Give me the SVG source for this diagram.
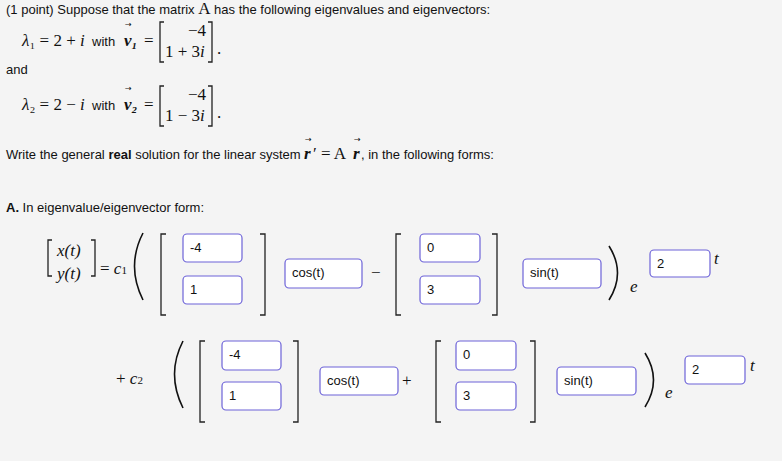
<svg xmlns="http://www.w3.org/2000/svg" width="782" height="461" viewBox="0 0 782 461">
<style>
.s{font-family:"Liberation Sans",Arial,sans-serif;font-size:13px;fill:#111}
.m{font-family:"Liberation Serif","Times New Roman",serif;font-size:17px;fill:#111}
.i{font-style:italic}
.b{fill:#fff;stroke:#6d63d8;stroke-width:1.2;rx:4}
.bx{fill:none;stroke:#222;stroke-width:1.3}
.p{fill:none;stroke:#111;stroke-width:1.6}
.ar{font-family:"DejaVu Sans",sans-serif;font-size:8px;fill:#111}
</style>
<rect width="782" height="461" fill="#f4f4f4"/>
<g id="header">
<text class="s" x="6" y="14">(1 point) Suppose that the matrix <tspan class="m">A</tspan> has the following eigenvalues and eigenvectors:</text>
<text class="m" x="22" y="46"><tspan class="i">λ</tspan>₁ = 2 + <tspan class="i">i</tspan></text>
<text class="s" x="92" y="46">with</text>
<text class="m i" x="124" y="46" font-weight="bold">v₁</text>
<text class="ar" x="125" y="27">→</text>
<text class="m" x="144" y="46">=</text>
<path class="bx" d="M164 22h-4v40h4M208 22h4v40h-4"/>
<text class="m" x="206" y="36" text-anchor="end">−4</text>
<text class="m" x="165" y="57">1 + 3<tspan class="i">i</tspan></text>
<text class="m" x="217" y="54">.</text>
<text class="s" x="6" y="74">and</text>
<text class="m" x="22" y="110"><tspan class="i">λ</tspan>₂ = 2 − <tspan class="i">i</tspan></text>
<text class="s" x="92" y="110">with</text>
<text class="m i" x="124" y="110" font-weight="bold">v₂</text>
<text class="ar" x="125" y="91">→</text>
<text class="m" x="144" y="110">=</text>
<path class="bx" d="M164 86h-4v40h4M208 86h4v40h-4"/>
<text class="m" x="206" y="100" text-anchor="end">−4</text>
<text class="m" x="165" y="121">1 − 3<tspan class="i">i</tspan></text>
<text class="m" x="217" y="118">.</text>
<text class="s" x="6" y="159">Write the general <tspan font-weight="bold">real</tspan> solution for the linear system</text>
<text class="m i" x="304" y="159" font-weight="bold">r</text>
<text class="ar" x="305" y="142">→</text>
<text class="m" x="313" y="159">′ = A</text>
<text class="m i" x="353" y="159" font-weight="bold">r</text>
<text class="ar" x="354" y="142">→</text>
<text class="s" x="361" y="159">, in the following forms:</text>
<text class="s" x="6" y="212"><tspan font-weight="bold">A.</tspan> In eigenvalue/eigenvector form:</text>
</g>
<g id="row1">
<path class="bx" d="M52 240h-4v36h4M91 240h4v36h-4"/>
<text class="m i" x="57" y="256" font-size="15">x(t)</text>
<text class="m i" x="57" y="279" font-size="15">y(t)</text>
<text class="m" x="100" y="274">= <tspan class="i">c</tspan><tspan font-size="11">1</tspan></text>
<path class="p" d="M143 233Q126 266 143 300"/>
<path class="bx" d="M166 234h-5v81h5M260 234h5v81h-5"/>
<rect class="b" x="183" y="234" width="59" height="28"/><text class="s" x="190" y="252">-4</text>
<rect class="b" x="183" y="276" width="59" height="28"/><text class="s" x="190" y="294">1</text>
<rect class="b" x="285" y="259" width="77" height="29"/><text class="s" x="292" y="277">cos(t)</text>
<text class="m" x="371" y="278">−</text>
<path class="bx" d="M401 234h-5v81h5M492 234h5v81h-5"/>
<rect class="b" x="420" y="234" width="60" height="28"/><text class="s" x="427" y="252">0</text>
<rect class="b" x="420" y="276" width="60" height="28"/><text class="s" x="427" y="294">3</text>
<rect class="b" x="523" y="259" width="78" height="29"/><text class="s" x="530" y="277">sin(t)</text>
<path class="p" d="M609 246Q626 273 609 300"/>
<text class="m i" x="630" y="292">e</text>
<rect class="b" x="650" y="250" width="60" height="27"/><text class="s" x="657" y="268">2</text>
<text class="m i" x="714" y="264">t</text>
</g>
<g id="row2">
<text class="m" x="116" y="384">+ <tspan class="i">c</tspan><tspan font-size="11">2</tspan></text>
<path class="p" d="M183 341Q166 374 183 408"/>
<path class="bx" d="M205 341h-5v81h5M293 341h5v81h-5"/>
<rect class="b" x="222" y="341" width="59" height="29"/><text class="s" x="229" y="359">-4</text>
<rect class="b" x="222" y="382" width="59" height="28"/><text class="s" x="229" y="400">1</text>
<rect class="b" x="320" y="367" width="78" height="28"/><text class="s" x="327" y="385">cos(t)</text>
<text class="m" x="402" y="386">+</text>
<path class="bx" d="M441 341h-5v81h5M530 341h5v81h-5"/>
<rect class="b" x="456" y="341" width="60" height="29"/><text class="s" x="463" y="359">0</text>
<rect class="b" x="456" y="382" width="60" height="28"/><text class="s" x="463" y="400">3</text>
<rect class="b" x="557" y="367" width="79" height="28"/><text class="s" x="564" y="385">sin(t)</text>
<path class="p" d="M645 353Q662 380 645 407"/>
<text class="m i" x="665" y="398">e</text>
<rect class="b" x="685" y="356" width="60" height="28"/><text class="s" x="692" y="374">2</text>
<text class="m i" x="750" y="371">t</text>
</g>
<g id="connectors"/>
</svg>
